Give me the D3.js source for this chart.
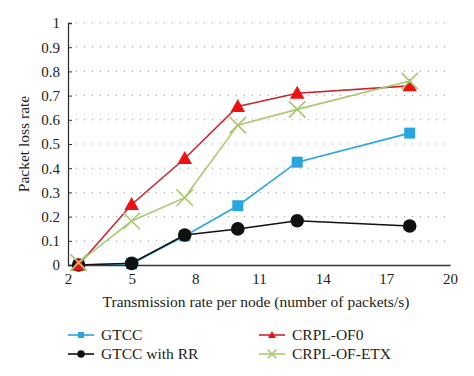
<!DOCTYPE html>
<html>
<head>
<meta charset="utf-8">
<script src="https://cdn.jsdelivr.net/npm/d3@7"></script>
<style>
  body { margin: 0; background: #fff; }
</style>
</head>
<body>
<svg id="chart" width="474" height="376"></svg>
<script>
// data
var rates = [2.5, 5, 7.5, 10, 12.8, 18.1];
var gtcc = [0, 0.005, 0.12, 0.245, 0.425, 0.545];
var gtccRR = [0, 0.007, 0.124, 0.149, 0.183, 0.161];
var crplOF0 = [0, 0.25, 0.44, 0.655, 0.71, 0.74];
var crplETX = [0.01, 0.182, 0.278, 0.578, 0.643, 0.76];
var xTicks = [2, 5, 8, 11, 14, 17, 20];
var yTicks = [0, 0.1, 0.2, 0.3, 0.4, 0.5, 0.6, 0.7, 0.8, 0.9, 1];

var series = [
  {name: "GTCC", values: gtcc, color: "#2aa6df", marker: "square"},
  {name: "GTCC with RR", values: gtccRR, color: "#111", marker: "circle"},
  {name: "CRPL-OF0", values: crplOF0, color: "#c8262e", fill: "#ee1111", marker: "triangle"},
  {name: "CRPL-OF-ETX", values: crplETX, color: "#a9c870", marker: "cross"}
];

var font = "'Liberation Serif', 'DejaVu Serif', serif";

var svg = d3.select("#chart"),
    margin = {top: 23, right: 24, bottom: 111, left: 68},
    width = +svg.attr("width") - margin.left - margin.right,
    height = +svg.attr("height") - margin.top - margin.bottom,
    g = svg.append("g").attr("transform", "translate(" + margin.left + "," + margin.top + ")");

var x = d3.scaleLinear().domain([2, 20]).range([0, width]);
var y = d3.scaleLinear().domain([0, 1]).range([height, 0]);

// gestippelde rasterlijnen
g.append("g")
  .selectAll("line")
  .data(yTicks.slice(1))
  .enter().append("line")
    .attr("x1", 0).attr("x2", width)
    .attr("y1", function(d) { return y(d); })
    .attr("y2", function(d) { return y(d); })
    .attr("stroke", "#999")
    .attr("stroke-width", 1)
    .attr("stroke-dasharray", "1,7");

var xAxis = g.append("g")
    .attr("transform", "translate(0," + height + ")")
    .call(d3.axisBottom(x).tickValues(xTicks).tickSize(0).tickPadding(8).tickFormat(d3.format("d")))
    .attr("font-family", font)
    .attr("font-size", 15);
xAxis.select(".domain").attr("stroke", "#333").attr("stroke-width", 1.3);
xAxis.selectAll("text").attr("fill", "#222");

var yAxis = g.append("g")
    .call(d3.axisLeft(y).tickValues(yTicks).tickSize(-4).tickPadding(8)
      .tickFormat(function(d) { return d === 0 || d === 1 ? d : d3.format(".1f")(d); }))
    .attr("font-family", font)
    .attr("font-size", 15);
yAxis.select(".domain").attr("stroke", "#333").attr("stroke-width", 1.3);
yAxis.selectAll(".tick line").attr("stroke", "#333");
yAxis.selectAll("text").attr("fill", "#222");

svg.append("text")
  .attr("x", margin.left + width / 2 - 3)
  .attr("y", 307)
  .attr("text-anchor", "middle")
  .attr("font-family", font)
  .attr("font-size", 15.5)
  .attr("fill", "#222")
  .text("Transmission rate per node (number of packets/s)");

svg.append("text")
  .attr("transform", "translate(29," + (margin.top + height / 2) + ") rotate(-90)")
  .attr("text-anchor", "middle")
  .attr("font-family", font)
  .attr("font-size", 15.5)
  .attr("fill", "#222")
  .text("Packet loss rate");

function drawMarker(sel, s, size) {
  if (s.marker === "square") {
    sel.append("rect")
      .attr("x", -size / 2).attr("y", -size / 2)
      .attr("width", size).attr("height", size)
      .attr("fill", s.color);
  } else if (s.marker === "circle") {
    sel.append("circle").attr("r", size * 0.62).attr("fill", s.color);
  } else if (s.marker === "triangle") {
    var h = size * 1.1;
    sel.append("path")
      .attr("d", "M0," + (-h * 0.62) + "L" + (h * 0.6) + "," + (h * 0.45) + "L" + (-h * 0.6) + "," + (h * 0.45) + "Z")
      .attr("fill", s.fill);
  } else {
    var c = size * 0.75;
    sel.append("path")
      .attr("d", "M" + (-c) + "," + (-c) + "L" + c + "," + c + "M" + c + "," + (-c) + "L" + (-c) + "," + c)
      .attr("stroke", s.color).attr("stroke-width", 1.6).attr("fill", "none");
  }
}

var line = d3.line()
  .x(function(d, i) { return x(rates[i]); })
  .y(function(d) { return y(d); });

series.forEach(function(s) {
  var sg = g.append("g");
  sg.append("path")
    .datum(s.values)
    .attr("d", line)
    .attr("fill", "none")
    .attr("stroke", s.color)
    .attr("stroke-width", 1.6);
  sg.selectAll("g.pt")
    .data(s.values)
    .enter().append("g")
      .attr("class", "pt")
      .attr("transform", function(d, i) { return "translate(" + x(rates[i]) + "," + y(d) + ")"; })
      .each(function() { drawMarker(d3.select(this), s, 11); });
});

// legenda
var legend = svg.append("g")
  .selectAll("g")
  .data(series)
  .enter().append("g")
    .attr("transform", function(d, i) {
      return "translate(" + (i < 2 ? 68 : 259) + "," + (335 + (i % 2) * 19) + ")";
    });

legend.append("line")
  .attr("x1", 0).attr("x2", 26)
  .attr("stroke", function(d) { return d.color; })
  .attr("stroke-width", 1.6);

legend.append("g")
  .attr("transform", "translate(13,0)")
  .each(function(d) { drawMarker(d3.select(this), d, 6); });

legend.append("text")
  .attr("x", 33)
  .attr("dy", "0.35em")
  .attr("font-family", font)
  .attr("font-size", 15.5)
  .attr("fill", "#222")
  .text(function(d) { return d.name; });
</script>
</body>
</html>
